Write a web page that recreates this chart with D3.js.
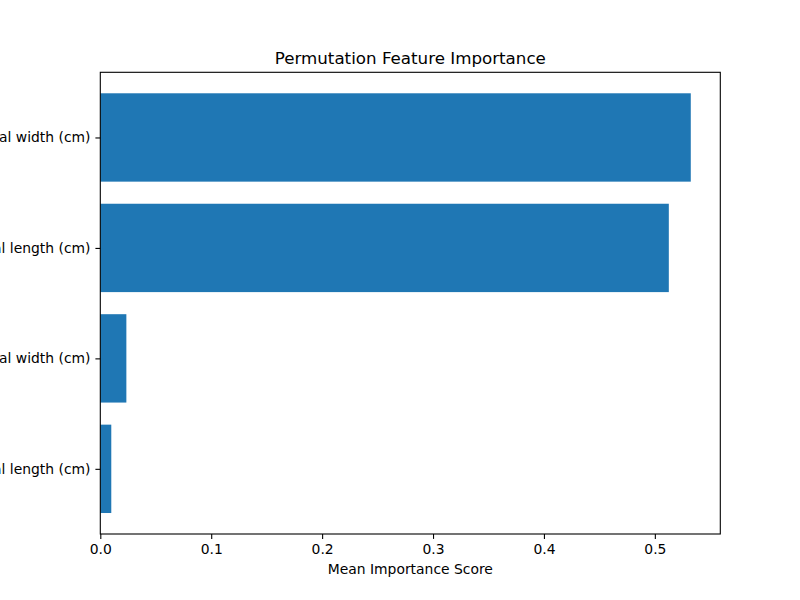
<!DOCTYPE html>
<html><head><meta charset="utf-8">
<script src="https://cdn.jsdelivr.net/npm/d3@7"></script>
<style>body{margin:0;background:#fff}svg{display:block;font-family:"DejaVu Sans",sans-serif}</style>
</head><body><svg id="c" width="800" height="600"></svg>
<script>
const features = ["sepal length (cm)", "sepal width (cm)", "petal length (cm)", "petal width (cm)"];
const importances = [0.0099, 0.0235, 0.5126, 0.5324];
const xTicks = [0, 0.1, 0.2, 0.3, 0.4, 0.5];
const xTickLabels = ["0.0", "0.1", "0.2", "0.3", "0.4", "0.5"];

const svg = d3.select("#c");
const L = 100.3, R = 720.3, T = 72.3, B = 534;
const x = d3.scaleLinear().domain([0, d3.max(importances) * 1.05]).range([L, R]);
const y = d3.scaleLinear().domain([-0.59, 3.59]).range([B, T]);
const color = "#1f77b4";

svg.append("g").selectAll("rect").data(features).join("rect")
  .attr("x", x(0))
  .attr("y", (d, i) => y(i + 0.4))
  .attr("width", (d, i) => x(importances[i]) - x(0))
  .attr("height", (d, i) => y(i - 0.4) - y(i + 0.4))
  .attr("fill", color);

// frame
svg.append("rect").attr("x", L).attr("y", T).attr("width", R - L).attr("height", B - T)
  .attr("fill", "none").attr("stroke", "#000").attr("stroke-width", 1.1);

const xAxis = d3.axisBottom(x).tickValues(xTicks).tickFormat((d, i) => xTickLabels[i])
  .tickSizeInner(4.9).tickSizeOuter(0).tickPadding(4.9);
const gx = svg.append("g").attr("transform", `translate(0,${B})`).call(xAxis);
gx.select(".domain").remove();
gx.selectAll("line").attr("stroke-width", 1.1);
gx.selectAll("text").attr("font-size", 13.9).attr("font-family", "DejaVu Sans").attr("fill", "#000");

const yAxis = d3.axisLeft(y).tickValues(d3.range(features.length)).tickFormat(i => features[i])
  .tickSizeInner(4.9).tickSizeOuter(0).tickPadding(4.9);
const gy = svg.append("g").attr("transform", `translate(${L},0)`).call(yAxis);
gy.select(".domain").remove();
gy.selectAll("line").attr("stroke-width", 1.1);
gy.selectAll("text").attr("font-size", 13.9).attr("font-family", "DejaVu Sans").attr("fill", "#000");

svg.append("text").attr("x", (L + R) / 2).attr("y", 574).attr("text-anchor", "middle")
  .attr("font-size", 13.9).text("Mean Importance Score");
svg.append("text").attr("x", (L + R) / 2).attr("y", 64).attr("text-anchor", "middle")
  .attr("font-size", 16.7).text("Permutation Feature Importance");
</script></body></html>
